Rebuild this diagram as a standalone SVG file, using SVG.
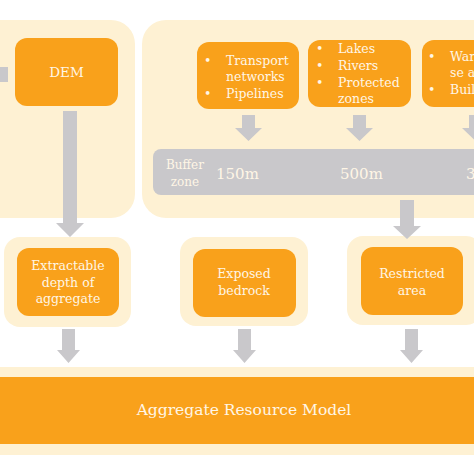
<svg xmlns="http://www.w3.org/2000/svg" width="474" height="474" viewBox="0 0 474 474">
<style>
.panel{fill:#FEF1D3}
.box{fill:#F9A11B}
.arrow{fill:#C9C8CB}
.t{font-family:"DejaVu Serif","Liberation Serif",serif;fill:#FFF6E6;font-size:12.5px}
.c{text-anchor:middle}
</style>
<rect width="474" height="474" fill="#FFFFFF"/>
<g id="left-panel"><rect class="panel" x="-30" y="20" width="165" height="198" rx="24"/></g>
<g id="right-panel"><rect class="panel" x="142" y="20" width="360" height="198" rx="24"/></g>
<g id="dem"><rect class="box" x="15" y="38" width="103" height="68" rx="12"/><text class="t c" x="66.5" y="77" style="font-size:13.5px">DEM</text></g>
<g id="transport"><rect class="box" x="197" y="42" width="102" height="67" rx="12"/>
<text class="t" x="204" y="65">•</text><text class="t" x="226" y="65">Transport</text>
<text class="t" x="226" y="81">networks</text>
<text class="t" x="204" y="98">•</text><text class="t" x="226" y="98">Pipelines</text></g>
<g id="water"><rect class="box" x="308" y="40" width="103" height="67" rx="12"/>
<text class="t" x="316" y="53">•</text><text class="t" x="338" y="53">Lakes</text>
<text class="t" x="316" y="70">•</text><text class="t" x="338" y="70">Rivers</text>
<text class="t" x="316" y="87">•</text><text class="t" x="338" y="87">Protected</text>
<text class="t" x="338" y="103">zones</text></g>
<g id="other"><rect class="box" x="422" y="40" width="103" height="67" rx="12"/>
<text class="t" x="428" y="61">•</text><text class="t" x="450" y="61">War</text>
<text class="t" x="450" y="77">se a</text>
<text class="t" x="428" y="94">•</text><text class="t" x="450" y="94">Buil</text></g>
<g id="buffer"><rect class="arrow" x="153" y="149" width="340" height="46" rx="8"/>
<text class="t c" x="185" y="169" style="font-size:12px">Buffer</text>
<text class="t c" x="185" y="186" style="font-size:12px">zone</text>
<text class="t" x="216" y="179" style="font-size:15px">150m</text>
<text class="t" x="340" y="179" style="font-size:15px">500m</text>
<text class="t" x="466" y="179" style="font-size:15px">3</text></g>
<g id="extractable"><rect class="panel" x="4" y="237" width="127" height="90" rx="16"/><rect class="box" x="17" y="248" width="102" height="68" rx="12"/>
<text class="t c" x="68" y="270">Extractable</text><text class="t c" x="68" y="287">depth of</text><text class="t c" x="68" y="303">aggregate</text></g>
<g id="exposed"><rect class="panel" x="180" y="237" width="128" height="89" rx="16"/><rect class="box" x="193" y="249" width="103" height="68" rx="12"/>
<text class="t c" x="244" y="278">Exposed</text><text class="t c" x="244" y="295">bedrock</text></g>
<g id="restricted"><rect class="panel" x="347" y="236" width="135" height="89" rx="16"/><rect class="box" x="361" y="247" width="102" height="68" rx="12"/>
<text class="t c" x="412" y="278">Restricted</text><text class="t c" x="412" y="295">area</text></g>
<g id="model"><rect class="panel" x="0" y="367" width="474" height="88"/><rect class="box" x="0" y="377" width="474" height="67"/>
<text class="t c" x="244" y="415" style="font-size:15.5px">Aggregate Resource Model</text></g>
<g id="connectors">
<rect class="arrow" x="0" y="67" width="8" height="15"/>
<polygon class="arrow" points="63,111 77,111 77,223 84,223 70,237 56,223 63,223"/>
<polygon class="arrow" points="242,115 255,115 255,128 262,128 248.5,141 235,128 242,128"/>
<polygon class="arrow" points="353,115 366,115 366,128 373,128 359.5,141 346,128 353,128"/>
<polygon class="arrow" points="469,115 482,115 482,128 489,128 475.5,141 462,128 469,128"/>
<polygon class="arrow" points="400,200 414,200 414,226 421,226 407,239 393,226 400,226"/>
<polygon class="arrow" points="62,329 75,329 75,350 80,350 68.5,363 57,350 62,350"/>
<polygon class="arrow" points="238,329 251,329 251,350 256,350 244.5,363 233,350 238,350"/>
<polygon class="arrow" points="405,329 418,329 418,350 423,350 411.5,363 400,350 405,350"/>
</g>
</svg>
